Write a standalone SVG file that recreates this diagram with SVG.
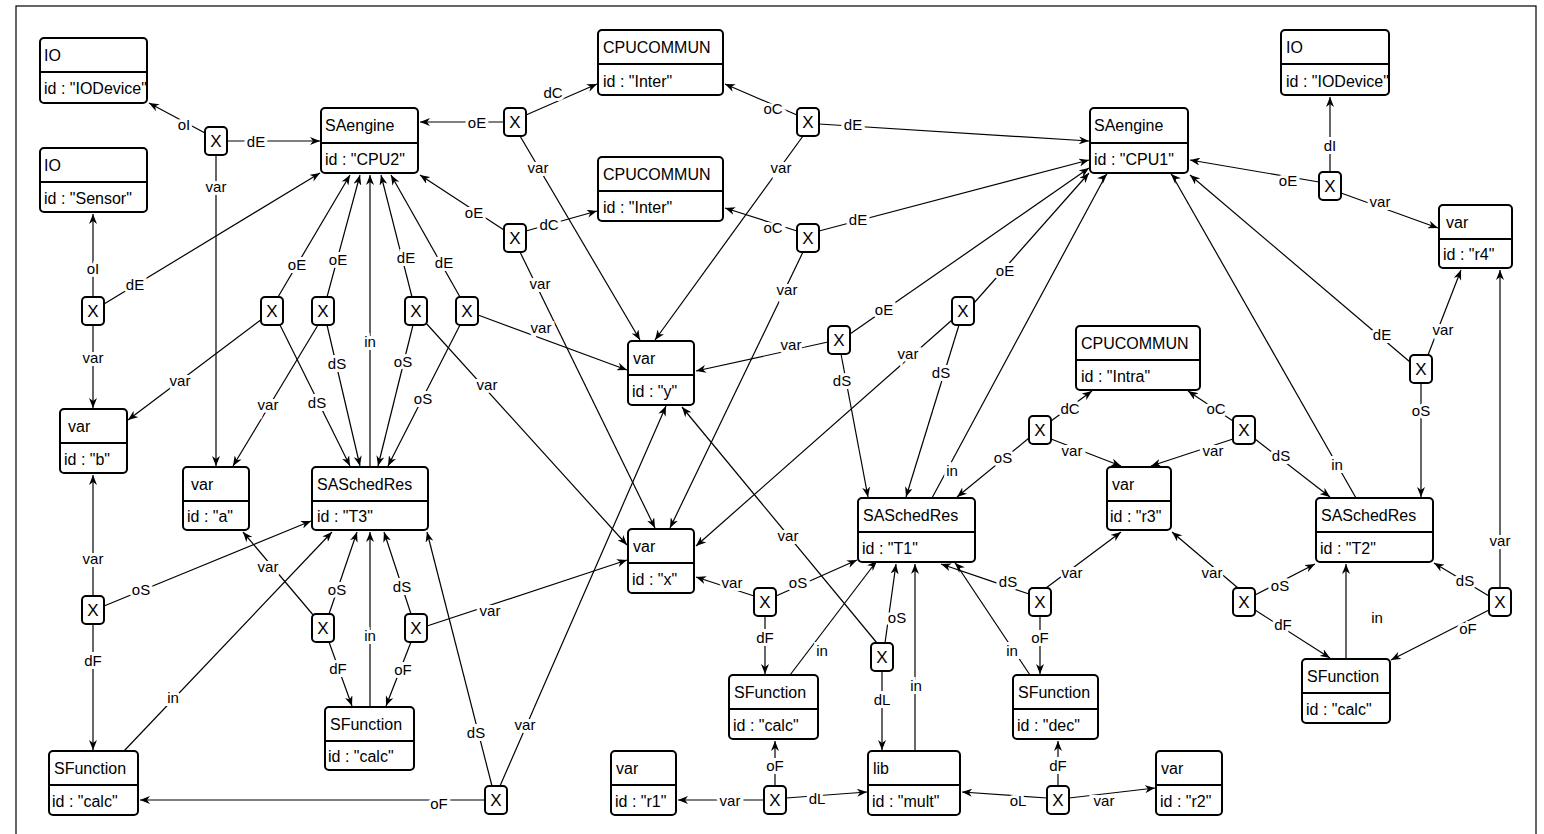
<svg xmlns="http://www.w3.org/2000/svg" width="1544" height="834" viewBox="0 0 1544 834">
<defs>
<marker id="a" viewBox="0 0 10 8" refX="10" refY="4" markerWidth="10" markerHeight="8" markerUnits="userSpaceOnUse" orient="auto"><path d="M0,0 L10,4 L0,8 L3,4 z" fill="#000"/></marker>
<style>
.n rect{fill:#fff;stroke:#000;stroke-width:2}
.n line{stroke:#000;stroke-width:2}
text{font-family:"Liberation Sans",Arial,sans-serif;font-size:16px;fill:#000}
.x text{text-anchor:middle;font-size:17px}
#e line{stroke:#000;stroke-width:1.2;marker-end:url(#a)}
#e line.p{marker-end:none}
#l text{text-anchor:middle;dominant-baseline:central;stroke:#fff;stroke-width:6;paint-order:stroke;font-size:15px}
</style>
</defs>
<rect width="1544" height="834" fill="#fff"/>
<rect x="16" y="6" width="1520" height="840" fill="none" stroke="#000" stroke-width="1.2"/>
<g id="e">
<line x1="205" y1="133" x2="149" y2="103"/><line x1="227" y1="141" x2="320" y2="141"/><line x1="216" y1="155" x2="216" y2="466"/>
<line x1="93" y1="297" x2="93" y2="214"/><line x1="104" y1="304" x2="320" y2="173"/><line x1="93" y1="325" x2="93" y2="408"/>
<line x1="504" y1="122" x2="420" y2="122"/><line x1="526" y1="115" x2="597" y2="84"/><line x1="520" y1="136" x2="640" y2="340"/>
<line x1="797" y1="115" x2="725" y2="84"/><line x1="819" y1="124" x2="1089" y2="141"/><line x1="803" y1="136" x2="655" y2="340"/>
<line x1="504" y1="230" x2="420" y2="175"/><line x1="526" y1="231" x2="597" y2="211"/><line x1="520" y1="252" x2="655" y2="528"/>
<line x1="797" y1="231" x2="725" y2="208"/><line x1="819" y1="231" x2="1089" y2="160"/><line x1="803" y1="252" x2="670" y2="528"/>
<line x1="278" y1="297" x2="350" y2="175"/><line x1="262" y1="319" x2="128" y2="420"/><line x1="280" y1="325" x2="350" y2="466"/>
<line x1="327" y1="297" x2="360" y2="175"/><line x1="318" y1="325" x2="233" y2="466"/><line x1="327" y1="325" x2="360" y2="466"/>
<line x1="412" y1="297" x2="381" y2="175"/><line x1="413" y1="325" x2="378" y2="466"/><line x1="425" y1="322" x2="627" y2="545"/>
<line x1="460" y1="297" x2="391" y2="175"/><line x1="460" y1="325" x2="388" y2="466"/><line x1="478" y1="315" x2="627" y2="370"/>
<line x1="370" y1="466" x2="370" y2="175"/>
<line x1="93" y1="596" x2="93" y2="475"/><line x1="104" y1="606" x2="311" y2="521"/><line x1="93" y1="624" x2="93" y2="750"/>
<line x1="314" y1="616" x2="243" y2="532"/><line x1="329" y1="614" x2="357" y2="532"/><line x1="329" y1="642" x2="352" y2="706"/>
<line x1="411" y1="614" x2="384" y2="532"/><line x1="411" y1="642" x2="386" y2="706"/><line x1="427" y1="626" x2="627" y2="560"/>
<line x1="370" y1="706" x2="370" y2="532"/>
<line x1="124" y1="751" x2="332" y2="532"/>
<line x1="492" y1="786" x2="427" y2="532"/><line x1="485" y1="800" x2="140" y2="800"/><line x1="500" y1="786" x2="666" y2="406"/>
<line x1="828" y1="342" x2="696" y2="371"/><line x1="850" y1="334" x2="1089" y2="168"/><line x1="841" y1="354" x2="868" y2="497"/>
<line x1="974" y1="303" x2="1089" y2="173"/><line x1="959" y1="325" x2="906" y2="497"/><line x1="952" y1="320" x2="696" y2="546"/>
<line class="p" x1="932" y1="498" x2="1106" y2="175"/><line x1="1106" y1="175" x2="1107" y2="174"/>
<line x1="1051" y1="421" x2="1092" y2="391"/><line x1="1029" y1="438" x2="957" y2="497"/><line x1="1051" y1="439" x2="1121" y2="466"/>
<line x1="1233" y1="421" x2="1188" y2="391"/><line x1="1233" y1="439" x2="1151" y2="466"/><line x1="1255" y1="439" x2="1330" y2="497"/>
<line class="p" x1="1356" y1="498" x2="1172" y2="175"/><line x1="1172" y1="175" x2="1171" y2="174"/>
<line x1="1330" y1="172" x2="1330" y2="97"/><line x1="1319" y1="182" x2="1190" y2="160"/><line x1="1341" y1="193" x2="1438" y2="228"/>
<line x1="1410" y1="362" x2="1190" y2="175"/><line x1="1428" y1="355" x2="1461" y2="270"/><line x1="1421" y1="383" x2="1421" y2="497"/>
<line x1="754" y1="596" x2="696" y2="577"/><line x1="776" y1="596" x2="857" y2="560"/><line x1="765" y1="616" x2="765" y2="674"/>
<line class="p" x1="790" y1="675" x2="876" y2="562"/><line x1="876" y1="562" x2="877" y2="561"/>
<line x1="877" y1="643" x2="682" y2="407"/><line x1="885" y1="643" x2="896" y2="564"/><line x1="882" y1="671" x2="882" y2="750"/>
<line x1="915" y1="751" x2="915" y2="564"/>
<line x1="1029" y1="594" x2="941" y2="564"/><line x1="1046" y1="588" x2="1121" y2="532"/><line x1="1040" y1="616" x2="1040" y2="674"/>
<line class="p" x1="1030" y1="675" x2="956" y2="564"/><line x1="956" y1="564" x2="955" y2="563"/>
<line x1="1238" y1="588" x2="1172" y2="532"/><line x1="1255" y1="595" x2="1315" y2="564"/><line x1="1255" y1="610" x2="1330" y2="658"/>
<line x1="1346" y1="659" x2="1346" y2="564"/>
<line x1="1500" y1="588" x2="1500" y2="270"/><line x1="1489" y1="596" x2="1434" y2="563"/><line x1="1489" y1="610" x2="1391" y2="660"/>
<line x1="775" y1="786" x2="775" y2="741"/><line x1="764" y1="800" x2="678" y2="800"/><line x1="786" y1="798" x2="867" y2="792"/>
<line x1="1047" y1="798" x2="962" y2="792"/><line x1="1058" y1="786" x2="1058" y2="741"/><line x1="1069" y1="798" x2="1155" y2="788"/>
</g>
<g id="l">
<text x="184" y="124">oI</text><text x="256" y="141">dE</text><text x="216" y="186">var</text>
<text x="93" y="268">oI</text><text x="135" y="284">dE</text><text x="93" y="357">var</text>
<text x="477" y="122">oE</text><text x="553" y="92">dC</text><text x="538" y="167">var</text>
<text x="773" y="108">oC</text><text x="853" y="124">dE</text><text x="781" y="167">var</text>
<text x="474" y="212">oE</text><text x="549" y="224">dC</text><text x="540" y="283">var</text>
<text x="773" y="227">oC</text><text x="858" y="219">dE</text><text x="787" y="289">var</text>
<text x="297" y="264">oE</text><text x="180" y="380">var</text><text x="317" y="402">dS</text>
<text x="338" y="259">oE</text><text x="268" y="404">var</text><text x="337" y="363">dS</text>
<text x="406" y="257">dE</text><text x="403" y="361">oS</text><text x="487" y="384">var</text>
<text x="444" y="262">dE</text><text x="423" y="398">oS</text><text x="541" y="327">var</text>
<text x="370" y="341">in</text>
<text x="93" y="558">var</text><text x="141" y="589">oS</text><text x="93" y="660">dF</text>
<text x="268" y="566">var</text><text x="337" y="589">oS</text><text x="338" y="668">dF</text>
<text x="402" y="586">dS</text><text x="403" y="669">oF</text><text x="490" y="610">var</text>
<text x="370" y="635">in</text><text x="173" y="697">in</text>
<text x="476" y="732">dS</text><text x="439" y="803">oF</text><text x="525" y="724">var</text>
<text x="791" y="344">var</text><text x="884" y="309">oE</text><text x="842" y="380">dS</text>
<text x="1005" y="270">oE</text><text x="941" y="372">dS</text><text x="908" y="353">var</text>
<text x="952" y="470">in</text>
<text x="1070" y="408">dC</text><text x="1003" y="457">oS</text><text x="1072" y="450">var</text>
<text x="1216" y="408">oC</text><text x="1213" y="450">var</text><text x="1281" y="455">dS</text>
<text x="1337" y="464">in</text>
<text x="1330" y="145">dI</text><text x="1288" y="180">oE</text><text x="1380" y="201">var</text>
<text x="1382" y="334">dE</text><text x="1443" y="329">var</text><text x="1421" y="410">oS</text>
<text x="732" y="582">var</text><text x="798" y="582">oS</text><text x="765" y="637">dF</text>
<text x="822" y="650">in</text>
<text x="788" y="535">var</text><text x="897" y="617">oS</text><text x="882" y="699">dL</text>
<text x="916" y="685">in</text>
<text x="1008" y="581">dS</text><text x="1072" y="572">var</text><text x="1040" y="637">oF</text>
<text x="1012" y="650">in</text>
<text x="1212" y="572">var</text><text x="1280" y="585">oS</text><text x="1283" y="624">dF</text>
<text x="1377" y="617">in</text>
<text x="1500" y="540">var</text><text x="1465" y="580">dS</text><text x="1468" y="628">oF</text>
<text x="775" y="765">oF</text><text x="730" y="800">var</text><text x="817" y="798">dL</text>
<text x="1018" y="800">oL</text><text x="1058" y="765">dF</text><text x="1104" y="800">var</text>
</g>
<g class="n" id="io1"><rect x="40" y="38" width="107" height="65" rx="4"/><line x1="40" y1="72" x2="147" y2="72"/><text x="44" y="61">IO</text><text x="44" y="94">id : "IODevice"</text></g>
<g class="n" id="io2"><rect x="40" y="148" width="107" height="64" rx="4"/><line x1="40" y1="182" x2="147" y2="182"/><text x="44" y="171">IO</text><text x="44" y="204">id : "Sensor"</text></g>
<g class="n" id="cpu2"><rect x="321" y="108" width="97" height="65" rx="4"/><line x1="321" y1="143" x2="418" y2="143"/><text x="325" y="131">SAengine</text><text x="325" y="165">id : "CPU2"</text></g>
<g class="n" id="cc1"><rect x="598" y="30" width="125" height="65" rx="4"/><line x1="598" y1="64" x2="723" y2="64"/><text x="603" y="53">CPUCOMMUN</text><text x="603" y="87">id : "Inter"</text></g>
<g class="n" id="cc2"><rect x="598" y="157" width="125" height="64" rx="4"/><line x1="598" y1="191" x2="723" y2="191"/><text x="603" y="180">CPUCOMMUN</text><text x="603" y="213">id : "Inter"</text></g>
<g class="n" id="cpu1"><rect x="1090" y="108" width="98" height="65" rx="4"/><line x1="1090" y1="143" x2="1188" y2="143"/><text x="1094" y="131">SAengine</text><text x="1094" y="165">id : "CPU1"</text></g>
<g class="n" id="io3"><rect x="1281" y="30" width="108" height="65" rx="4"/><line x1="1281" y1="64" x2="1389" y2="64"/><text x="1286" y="53">IO</text><text x="1286" y="87">id : "IODevice"</text></g>
<g class="n" id="r4"><rect x="1439" y="205" width="73" height="63" rx="4"/><line x1="1439" y1="239" x2="1512" y2="239"/><text x="1446" y="228">var</text><text x="1443" y="260">id : "r4"</text></g>
<g class="n" id="vb"><rect x="60" y="409" width="67" height="64" rx="4"/><line x1="60" y1="443" x2="127" y2="443"/><text x="68" y="432">var</text><text x="64" y="465">id : "b"</text></g>
<g class="n" id="va"><rect x="183" y="467" width="66" height="63" rx="4"/><line x1="183" y1="501" x2="249" y2="501"/><text x="191" y="490">var</text><text x="187" y="522">id : "a"</text></g>
<g class="n" id="t3"><rect x="312" y="467" width="116" height="63" rx="4"/><line x1="312" y1="501" x2="428" y2="501"/><text x="317" y="490">SASchedRes</text><text x="317" y="522">id : "T3"</text></g>
<g class="n" id="vy"><rect x="628" y="341" width="66" height="64" rx="4"/><line x1="628" y1="375" x2="694" y2="375"/><text x="633" y="364">var</text><text x="632" y="397">id : "y"</text></g>
<g class="n" id="vx"><rect x="628" y="529" width="66" height="64" rx="4"/><line x1="628" y1="563" x2="694" y2="563"/><text x="633" y="552">var</text><text x="632" y="585">id : "x"</text></g>
<g class="n" id="cc3"><rect x="1076" y="326" width="124" height="64" rx="4"/><line x1="1076" y1="360" x2="1200" y2="360"/><text x="1081" y="349">CPUCOMMUN</text><text x="1081" y="382">id : "Intra"</text></g>
<g class="n" id="t1"><rect x="858" y="498" width="117" height="64" rx="4"/><line x1="858" y1="532" x2="975" y2="532"/><text x="863" y="521">SASchedRes</text><text x="862" y="554">id : "T1"</text></g>
<g class="n" id="r3"><rect x="1107" y="467" width="64" height="63" rx="4"/><line x1="1107" y1="501" x2="1171" y2="501"/><text x="1112" y="490">var</text><text x="1110" y="522">id : "r3"</text></g>
<g class="n" id="t2"><rect x="1316" y="498" width="117" height="64" rx="4"/><line x1="1316" y1="532" x2="1433" y2="532"/><text x="1321" y="521">SASchedRes</text><text x="1320" y="554">id : "T2"</text></g>
<g class="n" id="sf3"><rect x="325" y="707" width="89" height="63" rx="4"/><line x1="325" y1="741" x2="414" y2="741"/><text x="330" y="730">SFunction</text><text x="328" y="762">id : "calc"</text></g>
<g class="n" id="sf0"><rect x="49" y="751" width="89" height="64" rx="4"/><line x1="49" y1="785" x2="138" y2="785"/><text x="54" y="774">SFunction</text><text x="52" y="807">id : "calc"</text></g>
<g class="n" id="sf1"><rect x="729" y="675" width="89" height="64" rx="4"/><line x1="729" y1="709" x2="818" y2="709"/><text x="734" y="698">SFunction</text><text x="733" y="731">id : "calc"</text></g>
<g class="n" id="sfd"><rect x="1013" y="675" width="85" height="64" rx="4"/><line x1="1013" y1="709" x2="1098" y2="709"/><text x="1018" y="698">SFunction</text><text x="1017" y="731">id : "dec"</text></g>
<g class="n" id="sf2"><rect x="1302" y="659" width="88" height="64" rx="4"/><line x1="1302" y1="693" x2="1390" y2="693"/><text x="1307" y="682">SFunction</text><text x="1306" y="715">id : "calc"</text></g>
<g class="n" id="r1"><rect x="611" y="751" width="65" height="64" rx="4"/><line x1="611" y1="785" x2="676" y2="785"/><text x="616" y="774">var</text><text x="615" y="807">id : "r1"</text></g>
<g class="n" id="lib"><rect x="868" y="751" width="92" height="64" rx="4"/><line x1="868" y1="785" x2="960" y2="785"/><text x="873" y="774">lib</text><text x="872" y="807">id : "mult"</text></g>
<g class="n" id="r2"><rect x="1156" y="751" width="66" height="64" rx="4"/><line x1="1156" y1="785" x2="1222" y2="785"/><text x="1161" y="774">var</text><text x="1160" y="807">id : "r2"</text></g>
<g class="n x" id="xs">
<rect x="205" y="127" width="22" height="28" rx="4"/><text x="216" y="147">X</text>
<rect x="82" y="297" width="22" height="28" rx="4"/><text x="93" y="317">X</text>
<rect x="504" y="108" width="22" height="28" rx="4"/><text x="515" y="128">X</text>
<rect x="797" y="108" width="22" height="28" rx="4"/><text x="808" y="128">X</text>
<rect x="504" y="224" width="22" height="28" rx="4"/><text x="515" y="244">X</text>
<rect x="797" y="224" width="22" height="28" rx="4"/><text x="808" y="244">X</text>
<rect x="261" y="297" width="22" height="28" rx="4"/><text x="272" y="317">X</text>
<rect x="312" y="297" width="22" height="28" rx="4"/><text x="323" y="317">X</text>
<rect x="405" y="297" width="22" height="28" rx="4"/><text x="416" y="317">X</text>
<rect x="456" y="297" width="22" height="28" rx="4"/><text x="467" y="317">X</text>
<rect x="82" y="596" width="22" height="28" rx="4"/><text x="93" y="616">X</text>
<rect x="312" y="614" width="22" height="28" rx="4"/><text x="323" y="634">X</text>
<rect x="405" y="614" width="22" height="28" rx="4"/><text x="416" y="634">X</text>
<rect x="485" y="786" width="22" height="28" rx="4"/><text x="496" y="806">X</text>
<rect x="828" y="326" width="22" height="28" rx="4"/><text x="839" y="346">X</text>
<rect x="952" y="297" width="22" height="28" rx="4"/><text x="963" y="317">X</text>
<rect x="1029" y="416" width="22" height="28" rx="4"/><text x="1040" y="436">X</text>
<rect x="1233" y="416" width="22" height="28" rx="4"/><text x="1244" y="436">X</text>
<rect x="1319" y="172" width="22" height="28" rx="4"/><text x="1330" y="192">X</text>
<rect x="1410" y="355" width="22" height="28" rx="4"/><text x="1421" y="375">X</text>
<rect x="754" y="588" width="22" height="28" rx="4"/><text x="765" y="608">X</text>
<rect x="871" y="643" width="22" height="28" rx="4"/><text x="882" y="663">X</text>
<rect x="1029" y="588" width="22" height="28" rx="4"/><text x="1040" y="608">X</text>
<rect x="1233" y="588" width="22" height="28" rx="4"/><text x="1244" y="608">X</text>
<rect x="1489" y="588" width="22" height="28" rx="4"/><text x="1500" y="608">X</text>
<rect x="764" y="786" width="22" height="28" rx="4"/><text x="775" y="806">X</text>
<rect x="1047" y="786" width="22" height="28" rx="4"/><text x="1058" y="806">X</text>
</g>
</svg>
